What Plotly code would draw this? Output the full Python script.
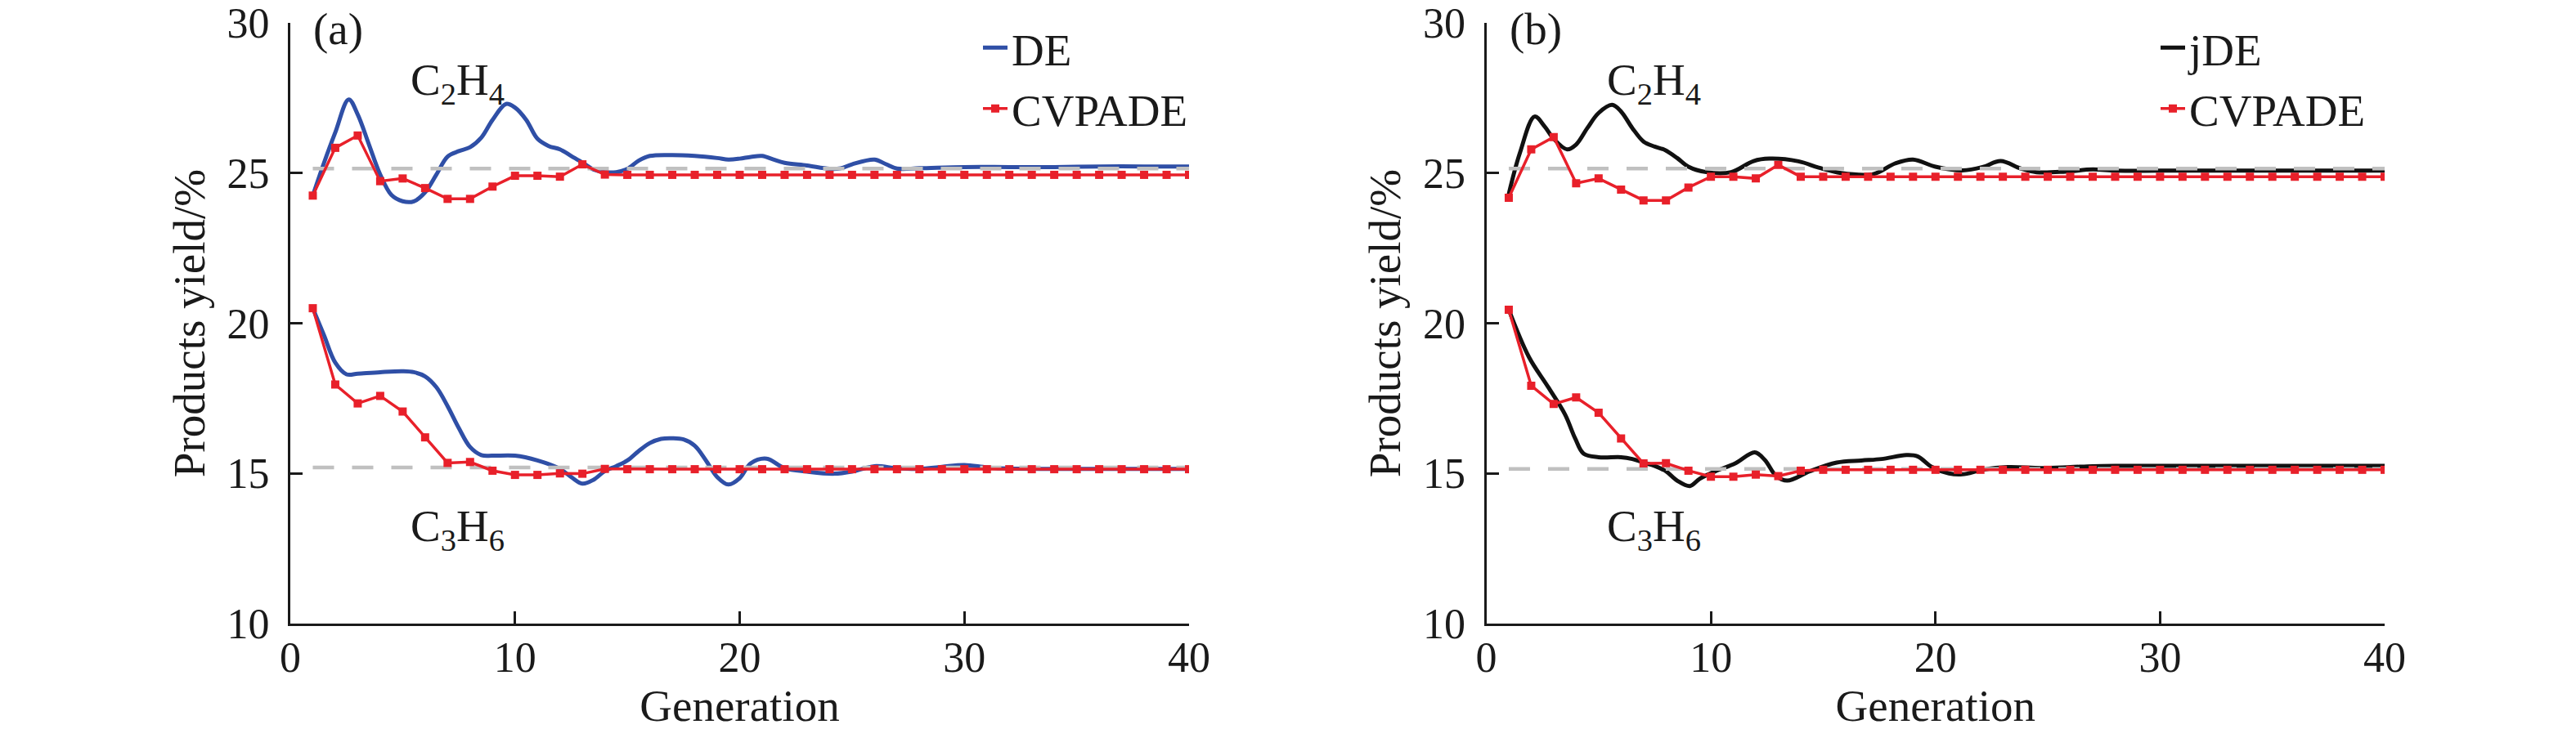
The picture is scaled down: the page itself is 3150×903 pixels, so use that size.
import plotly.graph_objects as go

FONT = "Liberation Serif"

# ---------------- data ----------------
GEN = list(range(1, 41))
X_TICKS = [0, 10, 20, 30, 40]
Y_TICKS = [10, 15, 20, 25, 30]
REF_C2H4 = [25.15, 25.15]
REF_C3H6_A = [15.2, 15.2]
REF_C3H6_B = [15.15, 15.15]
REF_GEN = [1, 40]

# panel (a): CVPADE
CVPADE_A_C2H4 = [24.25, 25.84, 26.25, 24.73, 24.82, 24.5, 24.14, 24.14, 24.55, 24.91,
                 24.91, 24.88, 25.29, 24.95, 24.94, 24.94, 24.94, 24.94, 24.94, 24.94,
                 24.94, 24.94, 24.94, 24.94, 24.94, 24.94, 24.94, 24.94, 24.94, 24.94,
                 24.94, 24.94, 24.94, 24.94, 24.94, 24.94, 24.94, 24.94, 24.94, 24.94]
CVPADE_A_C3H6 = [20.5, 17.96, 17.33, 17.58, 17.06, 16.2, 15.35, 15.38, 15.09, 14.95,
                 14.95, 15.0, 14.99, 15.15, 15.14, 15.14, 15.14, 15.14, 15.14, 15.14,
                 15.14, 15.14, 15.14, 15.14, 15.14, 15.14, 15.14, 15.14, 15.14, 15.14,
                 15.14, 15.14, 15.14, 15.14, 15.14, 15.14, 15.14, 15.14, 15.14, 15.14]

# panel (a): DE (smooth curve read at finer steps)
DE_C2H4_GEN = [1, 1.5, 2, 2.6, 3, 3.5, 4, 4.5, 5, 5.5, 6, 6.5, 7, 7.5, 8, 8.5, 9, 9.6,
               10, 10.5, 11, 11.5, 12, 12.5, 13, 13.5, 14, 14.5, 15, 15.5, 16, 17, 18,
               19, 19.5, 20, 20.5, 21, 21.5, 22, 23, 24, 24.5, 25, 26, 26.5, 27, 28,
               30, 32, 34, 36, 38, 40]
DE_C2H4 = [24.25, 25.34, 26.35, 27.45, 26.95, 25.95, 24.95, 24.27, 24.06, 24.06, 24.36,
           24.95, 25.55, 25.73, 25.86, 26.18, 26.77, 27.3, 27.18, 26.77, 26.14, 25.9,
           25.79, 25.57, 25.35, 25.12, 25.03, 25.03, 25.14, 25.41, 25.57, 25.6, 25.57,
           25.5, 25.45, 25.48, 25.54, 25.57, 25.45, 25.34, 25.25, 25.14, 25.16, 25.29,
           25.45, 25.3, 25.15, 25.16, 25.2, 25.2, 25.2, 25.22, 25.22, 25.22]
DE_C3H6_GEN = [1, 1.5, 2, 2.5, 3, 4, 5, 5.5, 6, 6.5, 7, 7.5, 8, 8.5, 9, 10, 11, 12,
               12.5, 13, 13.5, 14, 14.5, 15, 15.5, 16, 16.5, 17, 17.5, 18, 18.5, 19,
               19.5, 20, 20.5, 21.2, 22, 23, 24.2, 25, 26, 27, 28, 29, 30, 31, 32, 34,
               36, 38, 40]
DE_C3H6 = [20.5, 19.6, 18.69, 18.3, 18.32, 18.37, 18.4, 18.37, 18.23, 17.87, 17.24,
           16.51, 15.88, 15.61, 15.59, 15.59, 15.43, 15.15, 14.88, 14.66, 14.79, 15.08,
           15.24, 15.43, 15.74, 16.01, 16.15, 16.17, 16.13, 15.92, 15.43, 14.88, 14.63,
           14.84, 15.34, 15.49, 15.17, 15.06, 14.99, 15.06, 15.24, 15.17, 15.15, 15.22,
           15.28, 15.2, 15.16, 15.15, 15.15, 15.15, 15.15]

# panel (b): CVPADE
CVPADE_B_C2H4 = [24.18, 25.79, 26.2, 24.66, 24.82, 24.45, 24.09, 24.09, 24.52, 24.88,
                 24.88, 24.82, 25.27, 24.88, 24.88, 24.88, 24.88, 24.88, 24.88, 24.88,
                 24.88, 24.88, 24.88, 24.88, 24.88, 24.88, 24.88, 24.88, 24.88, 24.88,
                 24.88, 24.88, 24.88, 24.88, 24.88, 24.88, 24.88, 24.88, 24.88, 24.88]
CVPADE_B_C3H6 = [20.45, 17.92, 17.31, 17.53, 17.02, 16.16, 15.33, 15.34, 15.09, 14.89,
                 14.89, 14.96, 14.91, 15.09, 15.12, 15.12, 15.12, 15.12, 15.12, 15.12,
                 15.12, 15.12, 15.12, 15.12, 15.12, 15.12, 15.12, 15.12, 15.12, 15.12,
                 15.12, 15.12, 15.12, 15.12, 15.12, 15.12, 15.12, 15.12, 15.12, 15.12]

# panel (b): jDE (smooth curve read at finer steps)
JDE_C2H4_GEN = [1, 1.5, 2.15, 2.6, 3, 3.6, 4, 4.5, 5, 5.6, 6, 6.5, 7, 7.5, 7.95, 8.5,
                9, 9.8, 10.9, 11.9, 12.6, 13.9, 14.8, 15.8, 17.25, 18.2, 19, 20, 21.2,
                22.1, 22.9, 23.8, 24.5, 25.8, 27, 28, 30, 32, 34, 36, 38, 40]
JDE_C2H4 = [24.3, 25.68, 26.88, 26.55, 26.14, 25.79, 25.95, 26.5, 27.0, 27.27, 27.05,
            26.5, 26.05, 25.88, 25.77, 25.5, 25.21, 25.03, 25.03, 25.4, 25.48, 25.39,
            25.18, 25.0, 24.97, 25.32, 25.45, 25.21, 25.09, 25.2, 25.4, 25.15, 25.03,
            25.05, 25.12, 25.08, 25.08, 25.08, 25.08, 25.08, 25.08, 25.08]
JDE_C3H6_GEN = [1, 1.9, 2.75, 3.5, 3.96, 4.33, 5, 6, 6.5, 7, 7.5, 8, 8.5, 9.07, 9.5,
                10.2, 11.1, 11.95, 12.4, 12.9, 13.4, 14.4, 15.6, 16.7, 17.6, 18.7, 19.2,
                19.85, 20.6, 21.2, 22.1, 23.2, 24.7, 26, 27, 28, 30, 32, 34, 36, 38, 40]
JDE_C3H6 = [20.45, 18.87, 17.88, 16.97, 16.16, 15.66, 15.54, 15.54, 15.48, 15.36, 15.25,
            15.07, 14.76, 14.58, 14.82, 15.07, 15.34, 15.7, 15.45, 14.92, 14.76, 15.07,
            15.36, 15.43, 15.48, 15.61, 15.57, 15.21, 15.0, 14.97, 15.12, 15.21, 15.18,
            15.21, 15.24, 15.25, 15.25, 15.25, 15.25, 15.25, 15.25, 15.25]

BLUE = "#2f4fa6"
RED = "#e8202a"
GRAY = "#c0c0c0"
BLACK = "#111111"

fig = go.Figure()


def add_ref(xa, ya, y):
    fig.add_trace(go.Scatter(x=REF_GEN, y=y, mode="lines", xaxis=xa, yaxis=ya,
                             line=dict(color=GRAY, width=4.5, dash="26px,22px"),
                             showlegend=False, hoverinfo="skip"))


def add_smooth(xa, ya, x, y, color, name, show, legend):
    fig.add_trace(go.Scatter(x=x, y=y, mode="lines", xaxis=xa, yaxis=ya, name=name,
                             line=dict(color=color, width=5, shape="spline", smoothing=1.0),
                             showlegend=show, legend=legend))


def add_cvpade(xa, ya, y, show, legend):
    fig.add_trace(go.Scatter(x=GEN, y=y, mode="lines+markers", xaxis=xa, yaxis=ya,
                             name="CVPADE", line=dict(color=RED, width=3.5),
                             marker=dict(symbol="square", size=10, color=RED),
                             showlegend=show, legend=legend))


# panel (a)
add_smooth("x", "y", DE_C2H4_GEN, DE_C2H4, BLUE, "DE", True, "legend")
add_smooth("x", "y", DE_C3H6_GEN, DE_C3H6, BLUE, "DE", False, "legend")
add_ref("x", "y", REF_C2H4)
add_ref("x", "y", REF_C3H6_A)
add_cvpade("x", "y", CVPADE_A_C2H4, True, "legend")
add_cvpade("x", "y", CVPADE_A_C3H6, False, "legend")

# panel (b)
add_smooth("x2", "y2", JDE_C2H4_GEN, JDE_C2H4, BLACK, "jDE", True, "legend2")
add_smooth("x2", "y2", JDE_C3H6_GEN, JDE_C3H6, BLACK, "jDE", False, "legend2")
add_ref("x2", "y2", REF_C2H4)
add_ref("x2", "y2", REF_C3H6_B)
add_cvpade("x2", "y2", CVPADE_B_C2H4, True, "legend2")
add_cvpade("x2", "y2", CVPADE_B_C3H6, False, "legend2")

W, H = 3150, 903
tickfont = dict(family=FONT, size=52, color="#1a1a1a")
titlefont = dict(family=FONT, size=55, color="#1a1a1a")

xcommon = dict(range=[0, 40], tickvals=X_TICKS, ticks="inside", ticklen=15, tickwidth=3,
               tickcolor="#1a1a1a", showline=True, linewidth=3, linecolor="#1a1a1a",
               showgrid=False, zeroline=False, tickfont=tickfont, automargin=False,
               ticklabelstandoff=-6,
               title=dict(text="Generation", font=titlefont, standoff=4))
ycommon = dict(range=[10, 30], tickvals=Y_TICKS, ticks="inside", ticklen=15, tickwidth=3,
               tickcolor="#1a1a1a", showline=True, linewidth=3, linecolor="#1a1a1a",
               showgrid=False, zeroline=False, tickfont=tickfont, automargin=False,
               ticklabelstandoff=12,
               title=dict(text="Products yield/%", font=titlefont, standoff=10))

ydom = [140 / H, 875 / H]
fig.update_layout(
    width=W, height=H,
    margin=dict(l=0, r=0, t=0, b=0, autoexpand=False),
    paper_bgcolor="white", plot_bgcolor="white",
    font=dict(family=FONT, color="#1a1a1a"),
    xaxis=dict(domain=[355 / W, 1454 / W], anchor="y", **xcommon),
    yaxis=dict(domain=ydom, anchor="x", **ycommon),
    xaxis2=dict(domain=[1817.5 / W, 2916 / W], anchor="y2", **xcommon),
    yaxis2=dict(domain=ydom, anchor="x2", **ycommon),
    legend=dict(x=1197 / W, y=1 - 16 / H, xanchor="left", yanchor="top",
                font=dict(family=FONT, size=55, color="#1a1a1a"),
                bgcolor="rgba(0,0,0,0)", tracegroupgap=0),
    legend2=dict(x=2637 / W, y=1 - 16 / H, xanchor="left", yanchor="top",
                 font=dict(family=FONT, size=55, color="#1a1a1a"),
                 bgcolor="rgba(0,0,0,0)", tracegroupgap=0),
    showlegend=True,
)

ann_font = dict(family=FONT, size=55, color="#1a1a1a")
for xr, yr, lab in [("x", "y", "(a)"), ("x2", "y2", "(b)")]:
    fig.add_annotation(x=0.95, y=29.8, xref=xr, yref=yr, text=lab, showarrow=False,
                       xanchor="left", yanchor="middle", font=ann_font)
    fig.add_annotation(x=7.45, y=28.0, xref=xr, yref=yr, text="C<sub>2</sub>H<sub>4</sub>",
                       showarrow=False, xanchor="center", yanchor="middle", font=ann_font)
    fig.add_annotation(x=7.45, y=13.15, xref=xr, yref=yr, text="C<sub>3</sub>H<sub>6</sub>",
                       showarrow=False, xanchor="center", yanchor="middle", font=ann_font)

fig.write_html("out.html")
